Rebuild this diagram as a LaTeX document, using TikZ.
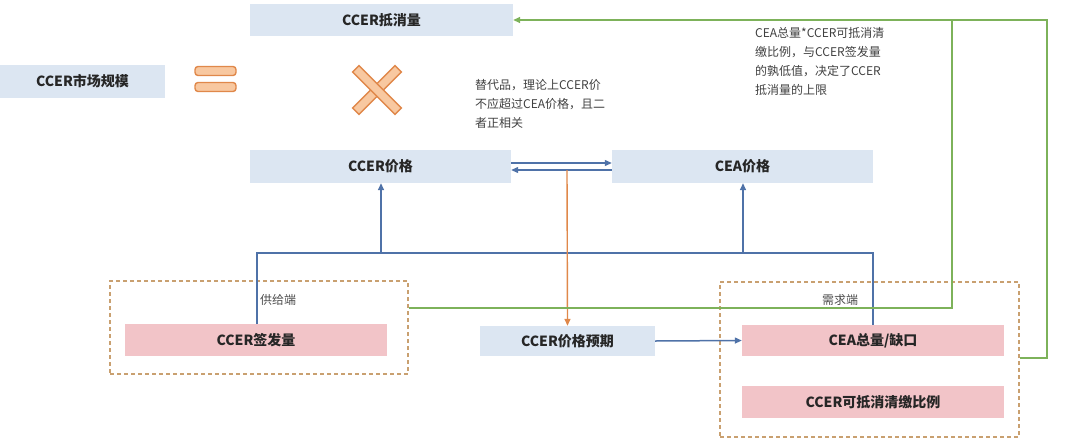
\documentclass[tikz,border=0pt]{standalone}
\usepackage{fontspec}
\setmainfont{Liberation Serif}
\newfontfamily\cjk{Noto Sans CJK SC}
\usetikzlibrary{arrows.meta}
\definecolor{lb}{HTML}{DCE6F2}
\definecolor{pk}{HTML}{F2C4C8}
\definecolor{ln}{HTML}{4F72A8}
\definecolor{gr}{HTML}{7DB25A}
\definecolor{og}{HTML}{E0884A}
\definecolor{ogf}{HTML}{F8C8A0}
\definecolor{dsh}{HTML}{C9A070}
\tikzset{
 bx/.style={inner sep=0pt,font=\cjk\bfseries\fontsize{14}{16}\selectfont,text=black!85},
 blue/.style={bx,fill=lb},
 pink/.style={bx,fill=pk},
 note/.style={font=\cjk\fontsize{12}{19}\selectfont,text=black!75,align=left,anchor=north west,inner sep=0pt},
 bl/.style={draw=ln,line width=1.5pt},
 ga/.style={draw=gr,line width=1.5pt},
 tip/.style={-{Triangle[length=7pt,width=6pt]}},
 dbox/.style={draw=dsh,dashed,line width=1.2pt,dash pattern=on 4pt off 3pt},
 lab/.style={font=\cjk\fontsize{12}{14}\selectfont,text=black!70},
}
\begin{document}
\begin{tikzpicture}[x=1pt,y=-1pt]
\useasboundingbox (0,0) rectangle (1080,440);
% boxes
\node[blue,minimum width=165pt,minimum height=33pt] (mkt) at (82.5,81.5) {CCER市场规模};
\node[blue,minimum width=263pt,minimum height=32pt] (off) at (381.5,20) {CCER抵消量};
\node[blue,minimum width=261pt,minimum height=33pt] (cp) at (380.5,166.5) {CCER价格};
\node[blue,minimum width=261pt,minimum height=33pt] (ep) at (742.5,166.5) {CEA价格};
\node[blue,minimum width=175pt,minimum height=30pt] (cpe) at (567.5,341) {CCER价格预期};
\node[dbox,minimum width=298pt,minimum height=93pt,inner sep=0pt] (sup) at (259,327.5) {};
\node[dbox,minimum width=299pt,minimum height=155pt,inner sep=0pt] (dem) at (869.5,359.5) {};
\node[pink,minimum width=262pt,minimum height=32pt] (iss) at (256,340) {CCER签发量};
\node[pink,minimum width=262pt,minimum height=31pt] (cea) at (873,340.5) {CEA总量/缺口};
\node[pink,minimum width=262pt,minimum height=32pt] (ratio) at (873,402) {CCER可抵消清缴比例};
\node[lab] (sl) at (278,300) {供给端};
\node[lab] (dl) at (840,300) {需求端};
% equals and times
\foreach \yy in {71,87}{\draw[og,fill=ogf,line width=1.4pt,rounded corners=3pt] (195,\yy-4.5) rectangle (236,\yy+4.5);}
\node[inner sep=0pt] (tim) at (377,90) {};
\foreach \a in {45,-45}{\draw[og,fill=ogf,line width=1.4pt,rotate around={\a:(tim)}] (347,85.5) rectangle (407,94.5);}
% notes
\node[note] (n1) at (475,79) {替代品，理论上CCER价\\不应超过CEA价格，且二\\者正相关};
\node[note] (n2) at (755,27) {CEA总量*CCER可抵消清\\缴比例，与CCER签发量\\的孰低值，决定了CCER\\抵消量的上限};
% double arrow
\draw[bl,line width=1.2pt,tip] (cp.east|-0,163) -- (ep.west|-0,163);
\draw[bl,line width=1.2pt,tip] (ep.west|-0,170) -- (cp.east|-0,170);
% blue tree
\coordinate (j1) at (381,253);
\coordinate (j2) at (743,253);
\draw[bl] (iss.north-|257,0) -- (257,253) -- (873,253) -- (cea.north-|873,0);
\draw[bl,tip] (j1) -- (cp.south-|j1);
\draw[bl,tip] (j2) -- (ep.south-|j2);
% orange
\draw[og,line width=1.4pt,tip] (567,170) -- (cpe.north);
% price expectation -> CEA
\draw[bl,tip] (cpe.east) -- (cea.west);
% green
\draw[ga] (sup.east|-0,308) -- (952,308) -- (952,20);
\draw[ga,tip] (dem.east|-0,358) -- (1047,358) -- (1047,20) -- (off.east);
\end{tikzpicture}
\end{document}
